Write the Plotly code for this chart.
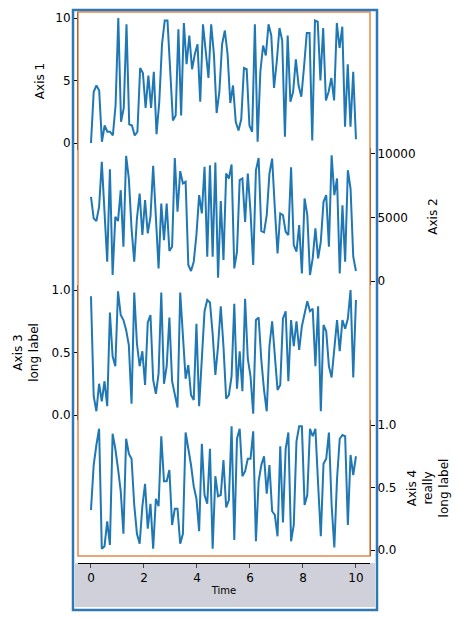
import numpy as np
import plotly.graph_objects as go

axis1 = [0, 4.1, 4.6, 4.2, 0.1, 1.4, 0.9, 0.9, 0.6, 3.0, 10.0, 1.7, 2.8, 9.5, 1.5, 1.4, 0.6, 0.9, 6.0, 5.6,
         2.8, 5.4, 2.8, 5.7, 0.7, 3.3, 7.9, 9.8, 9.8, 5.7, 1.8, 2.2, 9.1, 2.2, 9.6, 6.3, 8.6, 5.9, 7.1, 7.9,
         3.3, 9.5, 7.6, 5.2, 9.5, 7.1, 2.4, 4.1, 7.9, 9.0, 7.1, 3.2, 4.6, 1.7, 1.0, 1.9, 6.0, 5.9, 1.4, 0.9,
         9.5, 0.1, 5.7, 7.8, 7.0, 9.5, 8.6, 4.4, 6.5, 9.2, 8.2, 0.5, 8.6, 3.3, 4.1, 6.7, 4.6, 3.7, 6.1, 8.8,
         8.8, 0.2, 9.8, 9.7, 5.0, 9.2, 3.4, 4.1, 5.2, 3.4, 9.6, 7.6, 9.3, 1.3, 6.3, 1.3, 5.7, 0.3]
axis2 = [6630, 4930, 4720, 5840, 9380, 5450, 1520, 8800, 470, 5060, 4720, 7150, 2700, 9850, 8070, 4140, 1520,
         4930, 6890, 3620, 6370, 3750, 5060, 9070, 5450, 990, 6100, 3220, 6100, 2360, 2700, 9690, 5450, 8650,
         7680, 7810, 1260, 790, 1520, 3620, 6760, 5320, 8990, 1910, 9120, 1910, 9330, 260, 6290, 1650, 8460,
         8070, 9170, 990, 2310, 7940, 8070, 4660, 8460, 5450, 1260, 8720, 9690, 3930, 3830, 5190, 8460, 9640,
         5710, 2170, 5320, 5190, 3880, 3620, 8960, 2830, 2310, 4400, 600, 6500, 5190, 470, 1780, 4140, 1780,
         3090, 6240, 6760, 2700, 9900, 6760, 8070, 600, 5970, 1520, 8720, 7280, 1910, 790]
axis3 = [.95, .15, .03, .25, .11, .27, .07, .82, .47, .39, .99, .80, .76, .68, .56, .09, .98, .57, .39, .51,
         .24, .74, .80, .28, .17, .33, .98, .25, .39, .78, .27, .17, .06, .98, .60, .29, .40, .16, .12, .73,
         .07, .41, .83, .92, .90, .65, .32, .55, .87, .55, .13, .16, .31, .89, .21, .51, .19, .93, .45, .31,
         .01, .76, .78, .44, .20, .03, .55, .75, .47, .20, .24, .77, .83, .27, .76, .55, .75, .52, .71, .81,
         .91, .83, .85, .39, .87, .03, .72, .67, .39, .30, .55, .76, .51, .76, .69, .77, 1.0, .30, .92]
axis4 = [.32, .68, .84, .97, .01, .03, .23, .04, .93, .81, .65, .47, .13, .89, .77, .73, .36, .13, .05, .35,
         .53, .17, .37, .01, .41, .35, .91, .55, .55, .64, .20, .33, .33, .05, .13, .94, .81, .68, .51, .41,
         .15, .85, .44, .37, .81, .01, .59, .43, .44, .72, .34, .40, .99, .08, .89, .97, .59, .63, .73, .73,
         .95, .07, .55, .68, .75, .45, .68, .31, .28, .11, .83, .22, .81, .94, .07, .20, .87, .99, .99, .36,
         .44, .97, .91, .97, .53, .11, .69, .73, .94, .36, .02, .57, .89, .92, .91, .20, .76, .60, .75]
series = [axis1, axis2, axis3, axis4]
titles = ["Axis 1", "Axis 2", "Axis 3<br>long label", "Axis 4<br>really<br>long label"]
x_ticks = [0, 2, 4, 6, 8, 10]

OFF = 8  # page body margin
W, H = 463, 619
L, T = 78 - OFF, 12 - OFF
R, B = 93 + OFF, 56 + OFF
pw, ph = W - L - R, H - T - B
px = lambda p: (p - OFF - L) / pw
py = lambda p: (H - B - (p - OFF)) / ph

color = "#1f77b4"
fig = go.Figure()
for i, s in enumerate(series):
    xs = np.linspace(0, 10, len(s))
    fig.add_trace(go.Scatter(x=xs, y=s, mode="lines", line=dict(color=color, width=2),
                             yaxis="y" if i == 0 else f"y{i+1}", showlegend=False))

font = dict(family="DejaVu Sans", size=12, color="black")
domains = [(py(150), 1), (py(285), py(148)), (py(420), py(285)), (py(556), py(420))]
ranges = [[-0.56, 10.48], [-315, 10472], [-0.04, 1.04], [-0.048, 1.04]]
tickvals = [[0, 5, 10], [0, 5000, 10000], [0, 0.5, 1.0], [0, 0.5, 1.0]]
ticktext = [["0", "5", "10"], ["0", "5000", "10000"], ["0.0", "0.5", "1.0"], ["0.0", "0.5", "1.0"]]
sides = ["left", "right", "left", "right"]
standoffs = [8, 14, 10, 12]
for i in range(4):
    ax = dict(domain=list(domains[i]), range=ranges[i], side=sides[i], anchor="x", automargin=False,
              showgrid=False, zeroline=False, showline=True, linecolor="black", linewidth=1,
              ticks="outside", ticklen=4, tickcolor="black", tickvals=tickvals[i], ticktext=ticktext[i],
              tickfont=font, title=dict(text=titles[i], font=font, standoff=standoffs[i]))
    fig.update_layout(**{"yaxis" if i == 0 else f"yaxis{i+1}": ax})

fig.update_layout(
    width=W, height=H, margin=dict(l=L, r=R, t=T, b=B, autoexpand=False),
    paper_bgcolor="white", plot_bgcolor="white",
    xaxis=dict(range=[-0.49, 10.53], tickvals=x_ticks, showgrid=False, zeroline=False, automargin=False,
               anchor="free", position=0,
               showline=True, linecolor="black", ticks="outside", ticklen=4, tickfont=font,
               title=dict(text="Time", font=dict(family="DejaVu Sans", size=10, color="black"), standoff=2)),
    shapes=[
        dict(type="rect", xref="paper", yref="paper", x0=px(75), x1=px(375), y0=py(607), y1=0,
             fillcolor="#cfd0d9", line=dict(width=0), layer="below"),
        dict(type="rect", xref="paper", yref="paper", x0=0, x1=1, y0=py(556), y1=1,
             line=dict(color="#e8874a", width=1.5), layer="above"),
        dict(type="rect", xref="paper", yref="paper", x0=px(73), x1=px(377), y0=py(610), y1=py(10),
             line=dict(color="#2f78b4", width=2.5), layer="above"),
    ],
)
fig.write_html("out.html")
